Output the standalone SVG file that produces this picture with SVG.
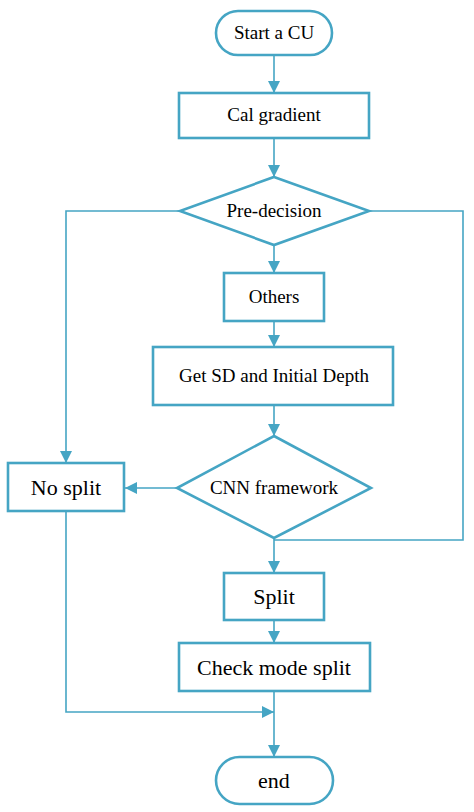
<svg xmlns="http://www.w3.org/2000/svg" width="474" height="812" viewBox="0 0 474 812">
<defs>
<marker id="arr" markerUnits="userSpaceOnUse" markerWidth="12" markerHeight="12" viewBox="0 0 12 12" refX="12" refY="6" orient="auto">
<path d="M0,0 L12,6 L0,12 Z" fill="#45A5C4"/>
</marker>
<style>
.shape{fill:#fff;stroke:#45A5C4;stroke-width:2.6}
.line{fill:none;stroke:#45A5C4;stroke-width:1.6}
text{font-family:'Liberation Serif','DejaVu Serif',serif;fill:#000;text-anchor:middle}
.s{font-size:19px}
.l{font-size:22px}
</style>
</defs>
<rect width="474" height="812" fill="#fff"/>
<g id="connectors">
<path class="line" d="M274,55 V93" marker-end="url(#arr)"/>
<path class="line" d="M274,138 V177" marker-end="url(#arr)"/>
<path class="line" d="M274,245 V273" marker-end="url(#arr)"/>
<path class="line" d="M274,321 V347" marker-end="url(#arr)"/>
<path class="line" d="M274,405 V436" marker-end="url(#arr)"/>
<path class="line" d="M180,211 H66 V463" marker-end="url(#arr)"/>
<path class="line" d="M177,488 H125" marker-end="url(#arr)"/>
<path class="line" d="M369,211 H463 V540 H274"/>
<path class="line" d="M274,538 V573" marker-end="url(#arr)"/>
<path class="line" d="M274,620 V643" marker-end="url(#arr)"/>
<path class="line" d="M274,691 V757" marker-end="url(#arr)"/>
<path class="line" d="M66,511 V712 H274" marker-end="url(#arr)"/>
</g>
<g id="start">
<rect class="shape" x="216" y="11" width="116" height="44" rx="22"/>
<text class="s" x="274" y="39">Start a CU</text>
</g>
<g id="cal">
<rect class="shape" x="179" y="93" width="190" height="45"/>
<text class="s" x="274" y="121">Cal gradient</text>
</g>
<g id="predecision">
<polygon class="shape" points="274,177 369,211 274,245 180,211"/>
<text class="s" x="274" y="217">Pre-decision</text>
</g>
<g id="others">
<rect class="shape" x="224" y="273" width="100" height="48"/>
<text class="s" x="274" y="303">Others</text>
</g>
<g id="getsd">
<rect class="shape" x="153" y="347" width="240" height="58"/>
<text class="s" x="274" y="382">Get SD and Initial Depth</text>
</g>
<g id="cnn">
<polygon class="shape" points="274,436 371,488 274,538 177,488"/>
<text class="s" x="274" y="494">CNN framework</text>
</g>
<g id="nosplit">
<rect class="shape" x="8" y="463" width="116" height="48"/>
<text class="l" x="66" y="495">No split</text>
</g>
<g id="split">
<rect class="shape" x="224" y="573" width="100" height="47"/>
<text class="l" x="274" y="604">Split</text>
</g>
<g id="check">
<rect class="shape" x="179" y="643" width="191" height="48"/>
<text class="l" x="274" y="675">Check mode split</text>
</g>
<g id="end">
<rect class="shape" x="216" y="757" width="117" height="47" rx="23.5"/>
<text class="l" x="274" y="788">end</text>
</g>
</svg>
